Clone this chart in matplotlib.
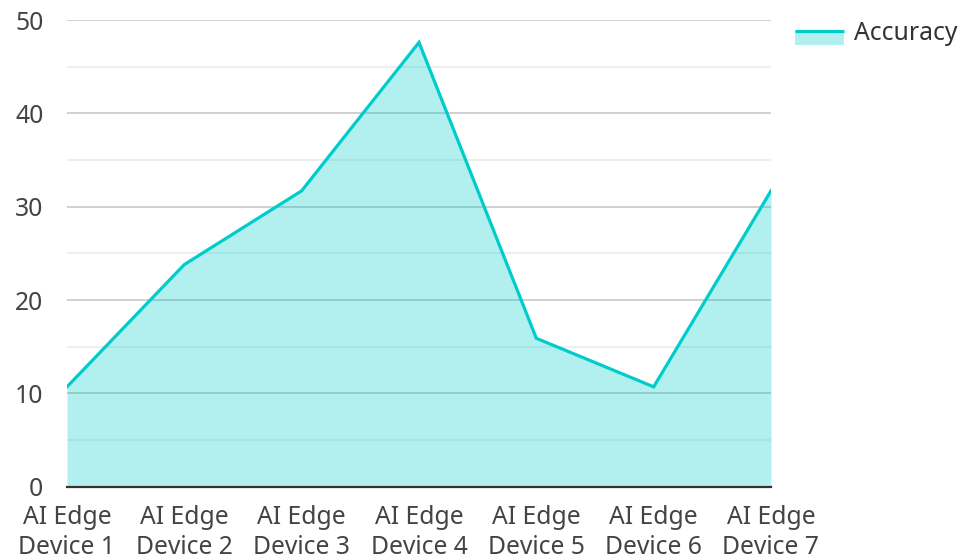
import matplotlib
matplotlib.use("Agg")
import matplotlib.pyplot as plt
from matplotlib.lines import Line2D
from matplotlib.patches import Rectangle
from matplotlib.legend_handler import HandlerBase
import numpy as np

categories = ["AI Edge\nDevice 1", "AI Edge\nDevice 2", "AI Edge\nDevice 3", "AI Edge\nDevice 4",
              "AI Edge\nDevice 5", "AI Edge\nDevice 6", "AI Edge\nDevice 7"]
accuracy = [10.7, 23.8, 31.7, 47.6, 15.9, 10.7, 31.7]
series_name = "Accuracy"
y_ticks = [0, 10, 20, 30, 40, 50]

plt.rcParams['font.family'] = ['Noto Sans', 'DejaVu Sans']

LINE = "#00cccc"
FS = 17.8
fig = plt.figure(figsize=(9.6, 5.6), dpi=100)
ax = fig.add_axes([67/960, 1 - 486.7/560, (771 - 67)/960, (486.7 - 20)/560])

x = np.arange(len(categories))
ax.fill_between(x, 0, accuracy, color=LINE, alpha=0.3, linewidth=0, zorder=2)
ax.plot(x, accuracy, color=LINE, linewidth=2.3, zorder=3, solid_joinstyle='miter')

ax.set_xlim(0, len(categories) - 1)
ax.set_ylim(0, 50)
ax.set_yticks(y_ticks)
ax.set_yticks(np.arange(5, 50, 10), minor=True)
ax.grid(axis='y', which='major', color='#c8c8c8', linewidth=1.2, zorder=0)
ax.grid(axis='y', which='minor', color='#ebebeb', linewidth=1.2, zorder=0)
ax.set_axisbelow(True)

ax.set_xticks(x)
ax.set_xticklabels(categories, linespacing=1.3)
for s in ['left', 'right', 'top']:
    ax.spines[s].set_visible(False)
ax.spines['bottom'].set_color('#333333')
ax.spines['bottom'].set_linewidth(1.6)
ax.spines['bottom'].set_zorder(4)
ax.tick_params(axis='both', which='both', length=0, labelsize=FS, colors='#444444')
ax.tick_params(axis='y', pad=17)
ax.tick_params(axis='x', pad=13)


class LineFillHandler(HandlerBase):
    def create_artists(self, legend, orig_handle, xdescent, ydescent, width, height, fontsize, trans):
        p = Rectangle((-xdescent, -ydescent - height * 0.3), width, height * 0.85,
                      facecolor=LINE, alpha=0.3, edgecolor='none', transform=trans)
        l = Line2D([-xdescent, -xdescent + width], [-ydescent + height * 0.5] * 2,
                   color=LINE, linewidth=2.3, solid_capstyle='butt', transform=trans)
        return [p, l]


handle = Line2D([], [], color=LINE)
leg = fig.legend([handle], [series_name], handler_map={Line2D: LineFillHandler()},
                 loc='upper left', bbox_to_anchor=(795/960, 1 - 21/560), frameon=False,
                 fontsize=FS, handlelength=2.0, handletextpad=0.4, borderaxespad=0, borderpad=0)
for t in leg.get_texts():
    t.set_color('#333333')

fig.savefig("out.png", dpi=100)
